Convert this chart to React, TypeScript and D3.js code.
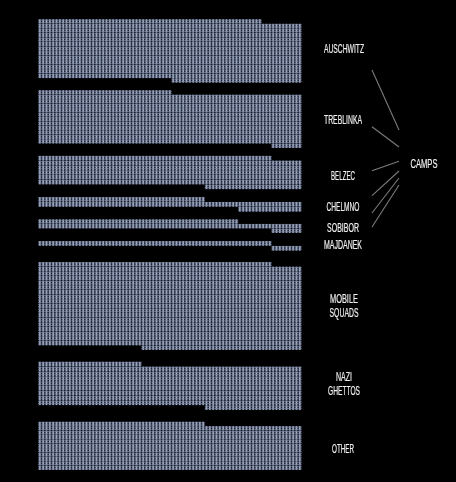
import React from "react";
import * as d3 from "d3";

const groups = ["Auschwitz", "Treblinka", "Belzec", "Chelmno", "Sobibor", "Majdanek", "Mobile", "Ghettos", "Other"];
const rowCounts = [13, 12, 6, 2, 2, 1, 18, 9, 11];
const topSteps = [67, 40, 70, 50, 60, 70, 70, 30.5, 50];
const bottomSteps = [40, 70, 50, 60, 70, 70, 30.5, 50, 79];
const groupTops = [19.2, 90.2, 155.8, 197, 219.3, 241, 262, 361.7, 421.7];
const groupBottoms = [82.7, 148, 189.2, 211.7, 233, 250.7, 350, 410, 470];
const COLUMNS = 79;

const labelLines = [["AUSCHWITZ"], ["TREBLINKA"], ["BELZEC"], ["CHELMNO"], ["SOBIBOR"], ["MAJDANEK"], ["MOBILE", "SQUADS"], ["NAZI", "GHETTOS"], ["OTHER"]];
const labelCentres = [344, 343, 343, 343, 343, 343, 344, 344, 343];
const labelRows = [48.5, 119, 175, 206, 227, 244, 298, 376, 448];
const labelWidths = [[40], [38], [24], [33], [32], [38], [28, 29], [16, 32], [22]];
const leaderFrom = [70, 126.7, 170.7, 195.7, 213, 227];
const leaderTo = [130, 147, 161.3, 171, 178, 185];

const x = d3.scaleLinear().domain([0, COLUMNS]).range([38.2, 301.5]);

function Cells({ g }: { g: number }) {
  const cells: React.ReactElement[] = [];
  const w = x(1) - x(0);
  const hasBottomStep = bottomSteps[g] < COLUMNS;
  const y = d3.scaleLinear().domain([0, rowCounts[g] + (hasBottomStep ? 1 : 0)]).range([groupTops[g], groupBottoms[g]]);
  const h = y(1) - y(0);
  d3.range(COLUMNS).forEach((c) => {
    const first = c < topSteps[g] ? 0 : 1;
    const last = c < bottomSteps[g] ? rowCounts[g] : rowCounts[g] + 1;
    d3.range(first, last).forEach((r) => {
      const px = x(c);
      const py = y(r);
      cells.push(
        <g key={`${c}-${r}`}>
          <rect x={px} y={py} width={w} height={h} fill="#252c40" />
          <rect x={px + 0.85} y={py + 0.1} width={1.6} height={h - 0.2} fill="#a6b0c5" />
          <rect x={px} y={py + 0.6} width={w} height={0.8} fill="#7e89a2" />
          <rect x={px} y={py + 2.9} width={w} height={0.8} fill="#7e89a2" />
        </g>
      );
    });
  });
  return <g>{cells}</g>;
}

const font = "'Liberation Sans Narrow', 'Liberation Sans', sans-serif";

export default function App() {
  return (
    <svg width={456} height={482} style={{ position: "absolute", left: 0, top: 0, background: "#000" }}>
      <defs>
        <filter id="soft" x="-2%" y="-2%" width="104%" height="104%">
          <feGaussianBlur stdDeviation={0.4} />
        </filter>
      </defs>
      <rect width={456} height={482} fill="#000" />
      <g filter="url(#soft)">
        {groups.map((_, g) => <Cells key={g} g={g} />)}
      </g>
      {leaderFrom.map((v, i) => (
        <line key={i} x1={372} y1={v} x2={399} y2={leaderTo[i]} stroke="#7c7c7c" strokeWidth={1.1} />
      ))}
      <g opacity={0.99}>
        {labelLines.map((lines, i) =>
          lines.map((t, j) => (
            <text
              key={t}
              x={labelCentres[i]}
              y={labelRows[i] + j * 14 + 4.5}
              textAnchor="middle"
              textLength={labelWidths[i][j]}
              lengthAdjust="spacingAndGlyphs"
              fontFamily={font}
              fontSize={12.5}
              fill="#f4f4f4"
              stroke="#f4f4f4"
              strokeWidth={0.2}
            >
              {t}
            </text>
          ))
        )}
        <text x={424} y={167.5} textAnchor="middle" textLength={27} lengthAdjust="spacingAndGlyphs" fontFamily={font} fontSize={12.5} fill="#f4f4f4" stroke="#f4f4f4" strokeWidth={0.2}>CAMPS</text>
      </g>
    </svg>
  );
}
